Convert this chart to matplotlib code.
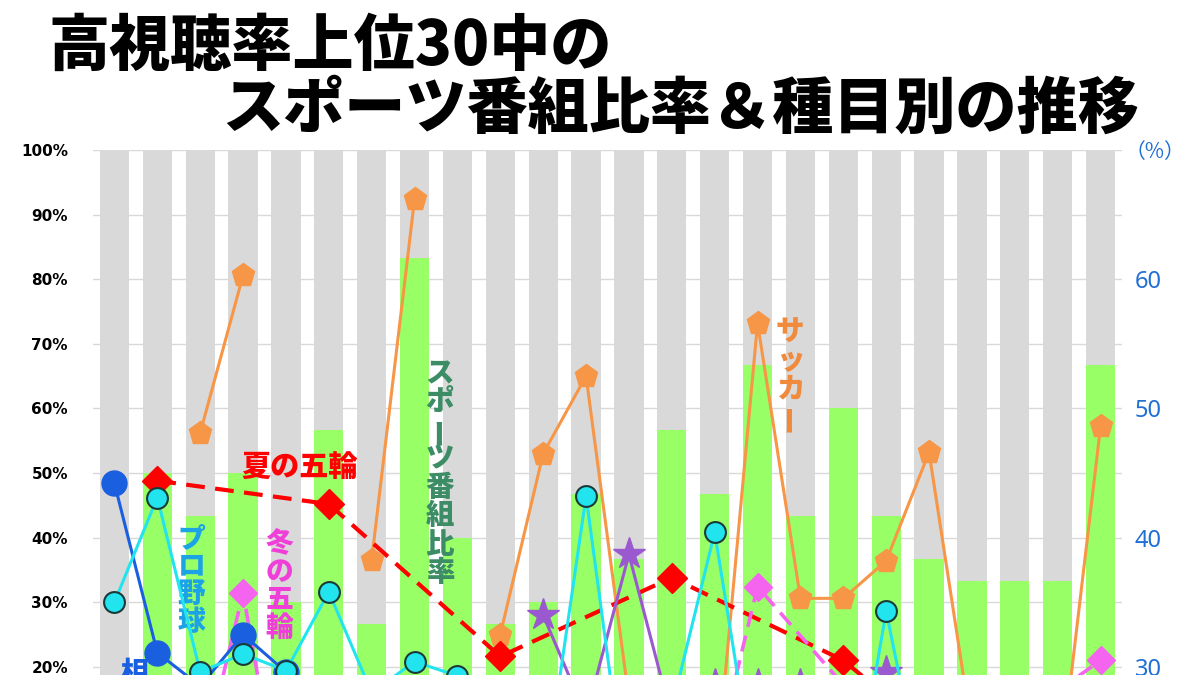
import matplotlib
matplotlib.use('Agg')
import matplotlib.pyplot as plt
import numpy as np

plt.rcParams['font.family'] = ['Noto Sans CJK JP', 'DejaVu Sans']

# 年（横軸）
years = ['1995', '1996', '1997', '1998', '1999', '2000', '2001', '2002',
         '2003', '2004', '2005', '2006', '2007', '2008', '2009', '2010',
         '2011', '2012', '2013', '2014', '2015', '2016', '2017', '2018']

# スポーツ番組比率（左軸 %）
sports_share = [16.7, 50.0, 43.3, 50.0, 30.0, 56.7, 26.7, 83.3, 40.0, 26.7, 30.0, 46.7,
                36.7, 56.7, 46.7, 66.7, 43.3, 60.0, 43.3, 36.7, 33.3, 33.3, 33.3, 66.7]

nan = np.nan
# 種目別の視聴率（右軸 %）
soccer = [nan, nan, 48.1, 60.3, nan, nan, 38.3, 66.2, nan, 32.5, 46.5, 52.5,
          27.5, 24.0, 20.5, 56.6, 35.3, 35.3, 38.2, 46.6, 25.0, 21.0, 20.5, 48.6]
summer = [nan, 44.4, nan, nan, nan, 42.6, nan, nan, nan, 30.8, nan, nan,
          nan, 36.9, nan, nan, nan, 30.5, nan, nan, nan, 19.5, nan, nan]
winter = [nan, nan, 22.0, 35.7, 17.0, nan, nan, nan, nan, nan, nan, nan,
          nan, nan, 22.5, 36.2, nan, nan, nan, 21.0, nan, nan, nan, 30.5]
baseball = [35.0, 43.1, 29.6, 31.0, 29.7, 35.8, 28.0, 30.4, 29.3, 22.0, 20.3, 43.2,
            18.5, 26.8, 40.4, 19.8, 17.0, 15.0, 34.3, 18.0, nan, nan, nan, nan]
sumo = [44.2, 31.1, 28.5, 32.5, 29.6, nan, nan, nan, nan, nan, nan, nan,
        nan, nan, nan, nan, nan, nan, nan, nan, nan, nan, nan, nan]
other = [nan, nan, nan, nan, nan, nan, nan, nan, nan, nan, 34.0, 26.2,
         38.7, 26.0, 28.6, 28.6, 28.6, nan, 29.6, nan, nan, nan, nan, nan]

fig = plt.figure(figsize=(12, 6.75), dpi=100)
ax = fig.add_axes([0.0775, -0.1793, 0.8575, 0.9571])
x = np.arange(len(years))

ax.bar(x, [100] * len(years), width=0.68, color='#D9D9D9', zorder=1)
ax.bar(x, sports_share, width=0.68, color='#99FF66', zorder=2)
ax.set_xlim(-0.5, 23.5)
ax.set_ylim(0, 100)
ax.set_yticks(np.arange(0, 101, 10))
ax.set_yticklabels([f'{v}%' for v in range(0, 101, 10)], fontsize=11,
                   fontweight='bold', family=['DejaVu Sans'])
ax.set_xticks(x)
ax.set_xticklabels(years)
ax.yaxis.grid(True, color='#D9D9D9', lw=1)
ax.set_axisbelow(True)
ax.tick_params(length=0, pad=18)
for s in ax.spines.values():
    s.set_visible(False)

ax2 = ax.twinx()
ax2.set_ylim(20, 70)
ax2.set_yticks([20, 30, 40, 50, 60])
ax2.set_yticklabels(['20', '30', '40', '50', '60'], fontsize=17, color='#1F6FD6',
                    family=['Noto Sans', 'DejaVu Sans'])
ax2.tick_params(length=0, pad=9)
for s in ax2.spines.values():
    s.set_visible(False)


def connected(vals):
    idx = [i for i, v in enumerate(vals) if not np.isnan(v)]
    return idx, [vals[i] for i in idx]


# サッカー
ax2.plot(x, soccer, color='#F79646', lw=2.2, marker='p', ms=17, zorder=3)
# 夏の五輪
xs, ys = connected(summer)
ax2.plot(xs, ys, color='#FF0000', lw=3, ls=(0, (4.5, 2.5)), marker='D', ms=15, zorder=4)
# 冬の五輪
xs, ys = connected(winter)
ax2.plot(xs, ys, color='#F564EE', lw=2.6, ls=(0, (4.5, 2.5)), marker='D', ms=14, zorder=4)
# その他
ax2.plot(x, other, color='#9B59D0', lw=2.2, marker='*', ms=24, zorder=5)
# 相撲
ax2.plot(x, sumo, color='#1A5FE0', lw=2.2, marker='o', ms=18, zorder=6)
# プロ野球
ax2.plot(x, baseball, color='#22E4EE', lw=2.2, marker='o', ms=15,
         markeredgecolor='#1A3A3A', markeredgewidth=1.5, zorder=7)


def vtext(xc, yc, s, color, size):
    n = len(s)
    for i, ch in enumerate(s):
        off = (n - 1) / 2 * size - i * size
        ax.annotate(ch, xy=(xc, yc), xytext=(0, off), textcoords='offset points',
                    ha='center', va='center', rotation=90 if ch == 'ー' else 0,
                    color=color, fontsize=size, fontweight='black', zorder=10)


ax.text(4.32, 50.8, '夏の五輪', color='#FF0000', fontsize=21, fontweight='black',
        ha='center', va='center', zorder=10)
vtext(3.85, 32.5, '冬の五輪', '#F03FD8', 20)
vtext(1.80, 33.4, 'プロ野球', '#1BA3E6', 20)
vtext(0.47, 17.0, '相撲', '#1A5FE0', 20)
vtext(7.59, 50.0, 'スポーツ番組比率', '#3C8C66', 20.5)
vtext(15.76, 65.2, 'サッカー', '#F08A3C', 20.5)

fig.text(1155 / 1200, 1 - 152 / 675, '（%）', color='#1F6FD6', fontsize=15,
         ha='center', va='center')

fig.text(48 / 1200, 1 - 47 / 675, '高視聴率上位30中の', fontsize=44,
         fontweight='black', ha='left', va='center')
fig.text(222 / 1200, 1 - 110 / 675, 'スポーツ番組比率＆種目別の推移', fontsize=44,
         fontweight='black', ha='left', va='center')

fig.savefig('out.png', dpi=100)
